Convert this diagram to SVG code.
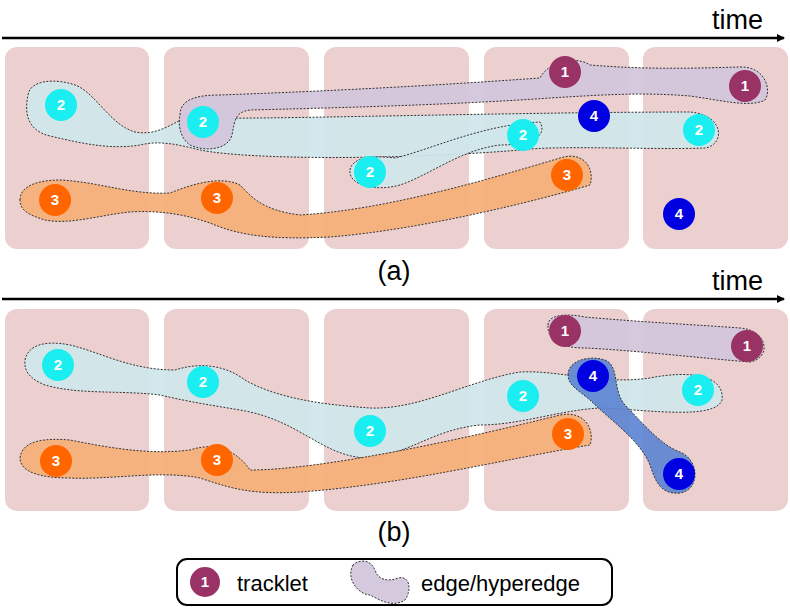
<svg xmlns="http://www.w3.org/2000/svg" width="790" height="613" viewBox="0 0 790 613">
<style>
.p{fill:#ecd0d0}
.b{stroke:#333;stroke-width:1;stroke-dasharray:2,1.5}
.cy{fill:#cfe6ea;fill-opacity:.92}
.pu{fill:#d3c6dc;fill-opacity:.95}
.or{fill:#f5b07a;fill-opacity:.95}
.bl{fill:#5b83d1;fill-opacity:.9}
.n text,.lg{font-family:"Liberation Sans",Arial,sans-serif}
.n text{fill:#fff;font-size:15px;font-weight:bold;text-anchor:middle}
.c1{fill:#993366}.c2{fill:#1aeef0}.c3{fill:#ff6600}.c4{fill:#0000e0}
.ax{stroke:#000;stroke-width:2.5}
</style>
<defs><marker id="ah" markerWidth="8" markerHeight="8" refX="7" refY="4" orient="auto" markerUnits="userSpaceOnUse" viewBox="0 0 8 8"><path d="M0,0L8,4L0,8Z" fill="#000"/></marker></defs>
<g id="panels">
<rect class="p" x="5" y="47" width="144" height="202" rx="12"/><rect class="p" x="164" y="47" width="145" height="202" rx="12"/><rect class="p" x="324" y="47" width="145" height="202" rx="12"/><rect class="p" x="484" y="47" width="145" height="202" rx="12"/><rect class="p" x="643" y="47" width="145" height="202" rx="12"/>
<rect class="p" x="5" y="309" width="144" height="202" rx="12"/><rect class="p" x="164" y="309" width="145" height="202" rx="12"/><rect class="p" x="324" y="309" width="145" height="202" rx="12"/><rect class="p" x="484" y="309" width="145" height="202" rx="12"/><rect class="p" x="643" y="309" width="145" height="202" rx="12"/>
</g>
<g id="connectors">
<line class="ax" x1="2" y1="38" x2="784" y2="38" marker-end="url(#ah)"/>
<line class="ax" x1="2" y1="299" x2="784" y2="299" marker-end="url(#ah)"/>
<path class="b cy" d="M28,95 C30,80 55,78 75,85 C95,92 110,125 135,132 C155,136 170,125 185,118 C250,120 520,112 690,112 C725,115 725,145 705,148 C650,150 560,145 520,150 C400,160 250,160 200,150 C180,145 160,140 140,145 C110,150 80,143 50,136 C25,130 25,110 28,95Z"/>
<path class="b pu" d="M180,115 C180,100 195,95 220,95 C300,92 400,88 540,78 C548,62 575,55 590,65 C650,70 700,68 740,67 C765,66 772,90 765,100 C750,108 720,100 690,96 C640,92 600,95 550,98 C450,105 330,108 250,110 C235,112 235,120 232,135 C228,150 205,152 190,145 C180,138 178,125 180,115Z"/>
<path class="b cy" d="M350,170 C352,158 370,155 395,158 C430,150 480,125 540,122 C550,140 520,145 500,145 C460,150 430,175 400,185 C375,192 348,185 350,170Z"/>
<path class="b or" d="M20,200 C20,185 40,180 60,180 C100,182 130,195 170,193 C190,185 220,175 240,185 C250,195 260,210 300,215 C380,210 470,185 560,158 C585,150 595,170 590,185 C540,200 420,230 330,237 C270,240 240,235 215,225 C190,215 160,210 130,212 C100,215 70,225 45,220 C28,215 20,210 20,200Z"/>
<path class="b cy" d="M25,360 C28,345 45,340 70,345 C100,352 130,370 175,370 C200,362 225,365 245,380 C280,400 330,405 370,408 C420,410 470,380 520,372 C560,370 600,385 650,378 C690,370 725,375 722,400 C715,420 650,410 600,408 C560,410 520,425 480,425 C430,430 410,455 365,458 C320,455 300,420 240,410 C210,405 190,402 160,395 C120,390 80,395 45,385 C28,378 24,370 25,360Z"/>
<path class="b or" d="M20,458 C22,440 45,438 70,440 C110,448 150,455 190,450 C220,440 240,455 250,470 C320,470 460,440 560,415 C585,410 595,430 590,445 C500,460 400,485 300,492 C250,495 230,488 200,478 C160,470 110,480 70,478 C40,478 20,472 20,458Z"/>
<path class="b pu" d="M548,325 C548,315 565,313 585,317 C640,322 700,325 740,328 C768,330 772,358 750,362 C700,358 630,350 585,348 C560,348 547,340 548,325Z"/>
<path class="b bl" d="M568,375 C568,360 590,355 605,360 C620,366 612,390 625,405 C640,420 660,445 680,452 C700,460 700,490 680,493 C660,495 655,480 650,465 C640,440 610,420 590,400 C578,390 568,385 568,375Z"/>
</g>
<g id="nodes" class="n">
<g id="a1a"><circle class="c1" cx="565" cy="72" r="16"/><text x="565" y="77">1</text></g>
<g id="a1b"><circle class="c1" cx="745" cy="86" r="16"/><text x="745" y="91">1</text></g>
<g id="a2a"><circle class="c2" cx="61" cy="105" r="16"/><text x="61" y="110">2</text></g>
<g id="a2b"><circle class="c2" cx="203" cy="122" r="16"/><text x="203" y="127">2</text></g>
<g id="a2c"><circle class="c2" cx="523" cy="135" r="16"/><text x="523" y="140">2</text></g>
<g id="a2d"><circle class="c2" cx="699" cy="130" r="16"/><text x="699" y="135">2</text></g>
<g id="a2e"><circle class="c2" cx="370" cy="172" r="16"/><text x="370" y="177">2</text></g>
<g id="a3a"><circle class="c3" cx="55" cy="200" r="16"/><text x="55" y="205">3</text></g>
<g id="a3b"><circle class="c3" cx="217" cy="198" r="16"/><text x="217" y="203">3</text></g>
<g id="a3c"><circle class="c3" cx="567" cy="175" r="16"/><text x="567" y="180">3</text></g>
<g id="a4a"><circle class="c4" cx="594" cy="116" r="16"/><text x="594" y="121">4</text></g>
<g id="a4b"><circle class="c4" cx="679" cy="214" r="16"/><text x="679" y="219">4</text></g>
<g id="b1a"><circle class="c1" cx="565" cy="331" r="16"/><text x="565" y="336">1</text></g>
<g id="b1b"><circle class="c1" cx="747" cy="346" r="16"/><text x="747" y="351">1</text></g>
<g id="b2a"><circle class="c2" cx="58" cy="365" r="16"/><text x="58" y="370">2</text></g>
<g id="b2b"><circle class="c2" cx="203" cy="382" r="16"/><text x="203" y="387">2</text></g>
<g id="b2c"><circle class="c2" cx="523" cy="396" r="16"/><text x="523" y="401">2</text></g>
<g id="b2d"><circle class="c2" cx="698" cy="390" r="16"/><text x="698" y="395">2</text></g>
<g id="b2e"><circle class="c2" cx="370" cy="431" r="16"/><text x="370" y="436">2</text></g>
<g id="b3a"><circle class="c3" cx="56" cy="461" r="16"/><text x="56" y="466">3</text></g>
<g id="b3b"><circle class="c3" cx="217" cy="460" r="16"/><text x="217" y="465">3</text></g>
<g id="b3c"><circle class="c3" cx="568" cy="434" r="16"/><text x="568" y="439">3</text></g>
<g id="b4a"><circle class="c4" cx="593" cy="376" r="16"/><text x="593" y="381">4</text></g>
<g id="b4b"><circle class="c4" cx="679" cy="474" r="16"/><text x="679" y="479">4</text></g>
</g>
<g id="labels" class="lg" font-size="27">
<text x="712" y="29">time</text>
<text x="712" y="290">time</text>
<text x="394" y="280" text-anchor="middle">(a)</text>
<text x="394" y="541" text-anchor="middle">(b)</text>
</g>
<g id="legend">
<rect x="177" y="559" width="435" height="46" rx="10" fill="#fff" stroke="#000" stroke-width="2"/>
<g class="n"><circle class="c1" cx="205" cy="582" r="15"/><text x="205" y="587">1</text></g>
<text class="lg" x="237" y="591" font-size="22">tracklet</text>
<path class="b pu" d="M353,565 C345,580 360,595 370,595 C380,600 392,608 405,600 C412,590 410,575 398,578 C388,582 378,580 375,570 C370,558 358,560 353,565Z"/>
<text class="lg" x="421" y="591" font-size="22">edge/hyperedge</text>
</g>
</svg>
